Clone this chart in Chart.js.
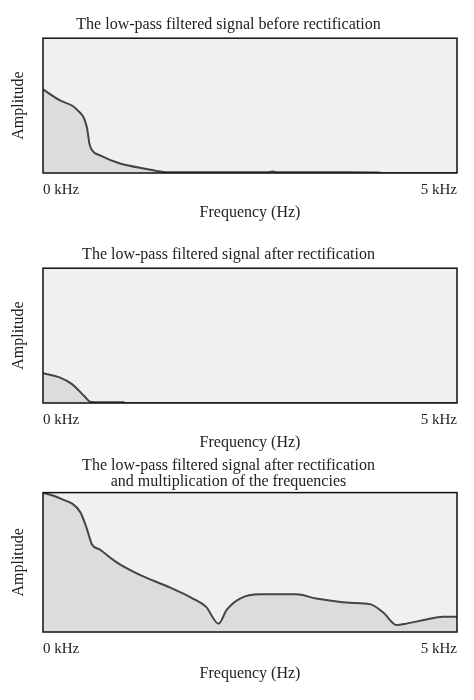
<!DOCTYPE html>
<html><head><meta charset="utf-8">
<script src="https://cdn.jsdelivr.net/npm/chart.js@4"></script>
<style>
body{margin:0;background:#fff;width:474px;height:700px;position:relative;overflow:hidden}
.w{position:absolute;left:0;width:474px}
</style></head><body>
<div class="w" style="top:0;height:230px"><canvas id="c1"></canvas></div>
<div class="w" style="top:230px;height:230px"><canvas id="c2"></canvas></div>
<div class="w" style="top:457px;height:243px"><canvas id="c3"></canvas></div>
<script>
const titles = [
  'The low-pass filtered signal before rectification',
  'The low-pass filtered signal after rectification',
  ['The low-pass filtered signal after rectification','and multiplication of the frequencies']
];
const xTickLabels = ['0 kHz','5 kHz'];
const xTitle = 'Frequency (Hz)';
const yTitle = 'Amplitude';
const freq1 = [0,0.2,0.41,0.53,0.56,0.59,0.69,0.93,1.25,1.49,2.0,2.7,2.77,2.84,3.5,4.05,4.1,5];
const amp1  = [0.62,0.54,0.47,0.34,0.22,0.17,0.13,0.07,0.03,0.006,0.005,0.005,0.012,0.005,0.005,0.004,0,0];
const freq2 = [0,0.2,0.35,0.5,0.57,0.7,0.97,1.0,5];
const amp2  = [0.22,0.19,0.14,0.05,0.01,0.006,0.005,0,0];
const freq3 = [0,0.2,0.45,0.53,0.59,0.69,0.89,1.17,1.49,1.81,1.97,2.12,2.22,2.38,2.62,3.06,3.30,3.70,3.95,4.11,4.27,4.39,4.63,4.83,5];
const amp3  = [1.0,0.96,0.86,0.74,0.63,0.59,0.50,0.41,0.33,0.24,0.18,0.06,0.16,0.24,0.27,0.27,0.24,0.21,0.20,0.14,0.05,0.06,0.09,0.11,0.11];

const boxPlugin = {
  id:'box',
  beforeDatasetsDraw(c){const a=c.chartArea,x=c.ctx;x.save();x.fillStyle='#eff0ef';x.fillRect(a.left,a.top,a.width,a.height);x.restore();},
  afterDatasetsDraw(c){const a=c.chartArea,x=c.ctx;x.save();x.strokeStyle='#111';x.lineWidth=1.5;x.strokeRect(a.left,a.top,a.width,a.height);x.restore();}
};
const FONT = "'Liberation Serif', serif";
function make(id, fx, ay, title, o){
  new Chart(document.getElementById(id),{
    type:'line',
    data:{datasets:[{data:fx.map((f,i)=>({x:f,y:ay[i]})),borderColor:'#444',borderWidth:2,backgroundColor:'#dcdcdc',fill:'origin',pointRadius:0,cubicInterpolationMode:'monotone'}]},
    plugins:[boxPlugin],
    options:{
      responsive:true,maintainAspectRatio:false,animation:false,
      layout:{padding:{left:0,right:17,top:0,bottom:0}},
      plugins:{legend:{display:false},tooltip:{enabled:false},
        title:{display:true,text:title,color:'#222',font:{family:FONT,size:16,weight:'normal',lineHeight:o.lh},padding:{top:o.tt,bottom:o.tb}}},
      scales:{
        x:{type:'linear',min:0,max:5,grid:{display:false,drawTicks:false},border:{display:false},
          ticks:{stepSize:5,padding:8,align:'inner',color:'#222',font:{family:FONT,size:15},callback:(v)=>xTickLabels[v===0?0:1]},
          title:{display:true,text:xTitle,color:'#222',font:{family:FONT,size:16},padding:{top:4,bottom:o.xb}},
          afterFit(s){s.height=o.xh;}},
        y:{min:0,max:1,grid:{display:false,drawTicks:false},border:{display:false},ticks:{display:false},
          title:{display:true,text:yTitle,color:'#222',font:{family:FONT,size:16},padding:{top:9,bottom:0}},
          afterFit(s){s.width=43;}}
      }
    }
  });
}
make('c1',freq1,amp1,titles[0],{lh:1.2,tt:15,tb:4,xh:57,xb:8});
make('c2',freq2,amp2,titles[1],{lh:1.2,tt:15,tb:4,xh:57,xb:8});
make('c3',freq3,amp3,titles[2],{lh:1.05,tt:0,tb:2,xh:68,xb:17});
</script></body></html>
